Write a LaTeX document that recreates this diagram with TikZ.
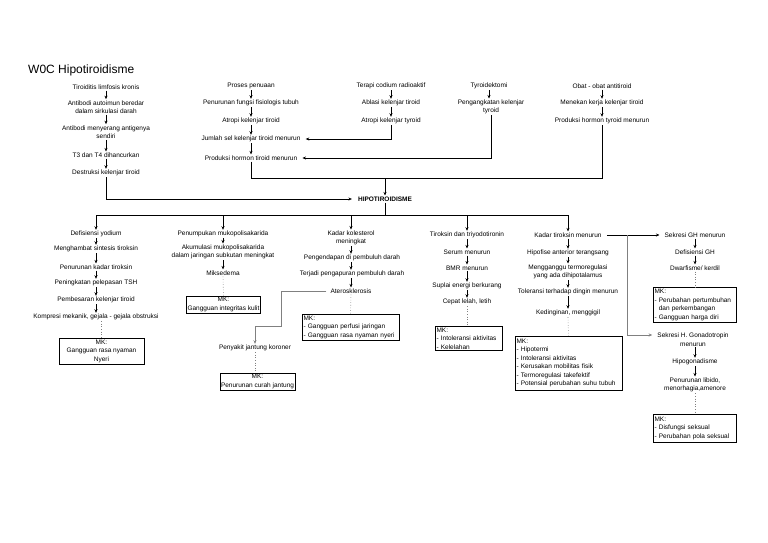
\documentclass[tikz,border=0pt]{standalone}
\usepackage{fontspec}
\setmainfont{Liberation Sans}
\usetikzlibrary{arrows.meta}
\begin{document}
\begin{tikzpicture}[x=1pt,y=-1pt,
 txt/.style={font=\fontsize{6.5}{8.5}\selectfont, align=center, inner sep=1pt},
 arr/.style={-{Stealth[length=3.5pt,width=3pt]}, line width=0.6pt},
 ln/.style={line width=0.7pt},
 dotl/.style={dotted, gray, line width=0.6pt},
 mkc/.style={draw, line width=1pt, font=\fontsize{6.5}{8.5}\selectfont, align=center, inner sep=1pt},
 mkl/.style={draw, line width=1pt, font=\fontsize{6.5}{8.5}\selectfont, align=left, inner sep=1.5pt},
]
\useasboundingbox[fill=white] (0,0) rectangle (768,543);

\node[anchor=west, font=\fontsize{12}{14}\selectfont, inner sep=0] (title) at (28,70) {W0C Hipotiroidisme};

% ---- top column 1
\node[txt] (a1) at (106,87) {Tiroiditis limfosis kronis};
\node[txt] (a2) at (106,107) {Antibodi autoimun beredar\\dalam sirkulasi darah};
\node[txt] (a3) at (106,132) {Antibodi menyerang antigenya\\sendiri};
\node[txt] (a4) at (106,155) {T3 dan T4 dihancurkan};
\node[txt] (a5) at (106,173) {Destruksi kelenjar tiroid};
\draw[arr] (a1.south) -- (a2.north);
\draw[arr] (a2.south) -- (a3.north);
\draw[arr] (a3.south) -- (a4.north);
\draw[arr] (a4.south) -- (a5.north);

% ---- top column 2
\node[txt] (b1) at (251,86) {Proses penuaan};
\node[txt] (b2) at (251,103) {Penurunan fungsi fisiologis tubuh};
\node[txt] (b3) at (251,121) {Atropi kelenjar tiroid};
\node[txt] (b4) at (251,139) {Jumlah sel kelenjar tiroid menurun};
\node[txt] (b5) at (251,158) {Produksi hormon tiroid menurun};
\draw[arr] (b1.south) -- (b2.north);
\draw[arr] (b2.south) -- (b3.north);
\draw[arr] (b3.south) -- (b4.north);
\draw[arr] (b4.south) -- (b5.north);

% ---- top column 3
\node[txt] (c1) at (391,86) {Terapi codium radioaktif};
\node[txt] (c2) at (391,103) {Ablasi kelenjar tiroid};
\node[txt] (c3) at (391,121) {Atropi kelenjar tyroid};
\draw[arr] (c1.south) -- (c2.north);
\draw[arr] (c2.south) -- (c3.north);

% ---- top column 4
\node[txt] (d1) at (489,86) {Tyroidektomi};
\node[txt] (d2) at (491,107) {Pengangkatan kelenjar\\tyroid};
\draw[arr] (d1.south) -- (d1.south |- d2.north);

% ---- top column 5
\node[txt] (e1) at (602,86) {Obat - obat antitiroid};
\node[txt] (e2) at (602,103) {Menekan kerja kelenjar tiroid};
\node[txt] (e3) at (602,121) {Produksi hormon tyroid menurun};
\draw[arr] (e1.south) -- (e2.north);
\draw[arr] (e2.south) -- (e3.north);

% ---- hipotiroidisme
\node[txt, font=\fontsize{6.5}{8.5}\selectfont\bfseries] (hipo) at (385,199) {HIPOTIROIDISME};
\coordinate (j1) at (385,178);
\coordinate (j2) at (385,215);

\draw[arr, shorten >=4pt] (c3.south) |- (b4.east);
\draw[arr, shorten >=4pt] (d2.south) |- (b5.east);
\draw[ln] (b5.south) |- (j1);
\draw[ln] (e3.south) |- (j1);
\draw[arr] (j1) -- (hipo.north);
\draw[arr] (a5.south) |- ([xshift=-5pt]hipo.west);
\draw[ln] (hipo.south) -- (j2);

% ---- row 2 column A
\node[txt] (A1) at (96,234) {Defisiensi yodium};
\node[txt] (A2) at (96,249) {Menghambat sintesis tiroksin};
\node[txt] (A3) at (96,267) {Penurunan kadar tiroksin};
\node[txt] (A4) at (96,283) {Peningkatan pelepasan TSH};
\node[txt] (A5) at (96,300) {Pembesaran kelenjar tiroid};
\node[txt] (A6) at (96,317) {Kompresi mekanik, gejala - gejala obstruksi};
\node[mkc, minimum width=85pt, minimum height=26pt] (A7) at (101.5,351) {MK:\\Gangguan rasa nyaman\\Nyeri};
\draw[arr] (A1.south) -- (A2.north);
\draw[arr] (A2.south) -- (A3.north);
\draw[arr] (A3.south) -- (A4.north);
\draw[arr] (A4.south) -- (A5.north);
\draw[arr] (A5.south) -- (A6.north);
\draw[dotl] (A7.north |- A6.south) -- (A7.north);

% ---- column B
\node[txt] (B1) at (223,234) {Penumpukan mukopolisakarida};
\node[txt] (B2) at (223,252) {Akumulasi mukopolisakarida\\dalam jaringan subkutan meningkat};
\node[txt] (B3) at (223,273) {Miksedema};
\node[mkc, minimum width=69pt, minimum height=17pt] (B4) at (223.5,304.5) {MK:\\Gangguan integritas kulit};
\draw[arr] (B1.south) -- (B2.north);
\draw[arr] (B2.south) -- (B3.north);
\draw[dotl] (B3.south) -- (B4.north);

% ---- column C
\node[txt] (C1) at (351,238) {Kadar kolesterol\\meningkat};
\node[txt] (C2) at (352,258) {Pengendapan di pembuluh darah};
\node[txt] (C3) at (352,274) {Terjadi pengapuran pembuluh darah};
\node[txt] (C4) at (351,291) {Aterosklerosis};
\node[mkl, text width=94pt, minimum height=26pt] (C5) at (350.5,327) {MK:\\- Gangguan perfusi jaringan\\- Gangguan rasa nyaman nyeri};
\node[txt] (C6) at (255,348) {Penyakit jantung koroner};
\node[mkc, minimum width=71pt, minimum height=17pt] (C7) at (257.5,381.5) {MK:\\Penurunan curah jantung};
\coordinate (k1) at (281,326);
\draw[arr] (C1.south) -- (C1.south |- C2.north);
\draw[arr] (C1.south |- C2.south) -- (C1.south |- C3.north);
\draw[arr] (C1.south |- C3.south) -- (C4.north);
\draw[dotl] (C4.south) -- (C5.north);
\draw[arr, gray, shorten <=3pt] (C4.west) -| (k1) -| (C6.north);
\draw[dotl] (C6.south) -- (C6.south |- C7.north);

% ---- column D
\node[txt] (D1) at (467,235) {Tiroksin dan triyodotironin};
\node[txt] (D2) at (467,252) {Serum menurun};
\node[txt] (D3) at (467,268) {BMR menurun};
\node[txt] (D4) at (467,286) {Suplai energi berkurang};
\node[txt] (D5) at (467,302) {Cepat lelah, letih};
\node[mkl, text width=64pt, minimum height=23pt] (D6) at (468.5,338.5) {MK:\\- Intoleransi aktivitas\\- Kelelahan};
\draw[arr] (D1.south) -- (D2.north);
\draw[arr] (D2.south) -- (D3.north);
\draw[arr] (D3.south) -- (D4.north);
\draw[arr] (D4.south) -- (D5.north);
\draw[dotl] (D5.south) -- (D5.south |- D6.north);

% ---- column E
\node[txt] (E1) at (568,235) {Kadar tiroksin menurun};
\node[txt] (E2) at (568,253) {Hipofise anterior terangsang};
\node[txt] (E3) at (568,272) {Mengganggu termoregulasi\\yang ada dihipotalamus};
\node[txt] (E4) at (568,292) {Toleransi terhadap dingin menurun};
\node[txt] (E5) at (568,313) {Kedinginan, menggigil};
\node[mkl, text width=104pt, minimum height=54pt] (E6) at (568.5,363) {MK:\\- Hipotermi\\- Intoleransi aktivitas\\- Kerusakan mobilitas fisik\\- Termoregulasi takefektif\\- Potensial perubahan suhu tubuh};
\draw[arr] (E1.south) -- (E2.north);
\draw[arr] (E2.south) -- (E3.north);
\draw[arr] (E3.south) -- (E4.north);
\draw[arr] (E4.south) -- (E5.north);
\draw[dotl] (E5.south) -- (E6.north);

% ---- column F
\node[txt] (F1) at (695,235) {Sekresi GH menurun};
\node[txt] (F2) at (695,252) {Defisiensi GH};
\node[txt] (F3) at (695,268) {Dwarfisme/ kerdil};
\node[mkl, text width=80pt, minimum height=30pt] (F4) at (694.5,305) {MK:\\- Perubahan pertumbuhan\\\phantom{- }dan perkembangan\\- Gangguan harga diri};
\node[txt] (F5) at (693,339.5) {Sekresi H. Gonadotropin\\menurun};
\node[txt] (F6) at (695,362) {Hipogonadisme};
\node[txt] (F7) at (695,385) {Penurunan libido,\\menorhagia,amenore};
\node[mkl, text width=80pt, minimum height=28pt] (F8) at (694.5,428) {MK:\\- Disfungsi seksual\\- Perubahan pola seksual};
\draw[arr] (F1.south) -- (F2.north);
\draw[arr] (F2.south) -- (F3.north);
\draw[dotl] (F3.south) -- (F3.south |- F4.north);
\draw[arr] (F6.north |- F5.south) -- (F6.north);
\draw[arr] (F6.south) -- (F6.south |- F7.north);
\draw[dotl] (F6.south |- F7.south) -- (F6.south |- F8.north);

\coordinate (v1) at (627,235);
\draw[arr, shorten <=4pt, shorten >=4pt] (E1.east) -- (F1.west);
\draw[arr, gray, shorten >=4pt] (v1) |- ([yshift=4.5pt]F5.west);

% ---- distribution line
\draw[ln] (A1.north |- j2) -- (E1.north |- j2);
\foreach \n in {A1,B1,C1,D1,E1} \draw[arr] (\n.north |- j2) -- (\n.north);
\end{tikzpicture}
\end{document}
